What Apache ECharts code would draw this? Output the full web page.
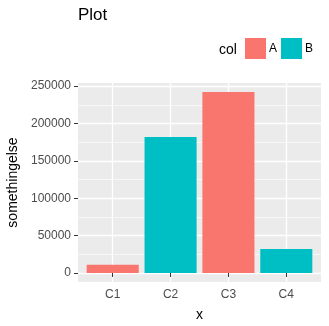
<!DOCTYPE html>
<html><head><meta charset="utf-8">
<script src="https://cdn.jsdelivr.net/npm/echarts@6/dist/echarts.min.js"></script>
<style>html,body{margin:0;padding:0;background:#fff}#c{width:329px;height:326px}</style>
</head><body><div id="c"></div>
<script>
const categories = ['C1', 'C2', 'C3', 'C4'];
const groups = ['A', 'B'];
const groupOf = ['A', 'B', 'A', 'B'];
const values = [11000, 182000, 242000, 32000];
const yTicks = [0, 50000, 100000, 150000, 200000, 250000];
const colors = {A: '#F8766D', B: '#00BFC4'};

const FONT = '"Liberation Sans", Arial, sans-serif';
const yMaxData = Math.max(...values);
const yMin = -0.05 * yMaxData, yMax = yMaxData * 1.05;
const xPos = categories.map((c, i) => i + 1);

const series = groups.map(g => ({
  name: g,
  type: 'bar',
  barWidth: '90%',
  barGap: '-100%',
  itemStyle: {color: colors[g]},
  data: categories.map((c, i) => groupOf[i] === g ? [xPos[i], values[i]] : null).filter(d => d)
}));

const chart = echarts.init(document.getElementById('c'), null, {renderer: 'canvas'});
chart.setOption({
  animation: false,
  textStyle: {fontFamily: FONT},
  title: [
    {text: 'Plot', left: 78, top: 7, padding: 0, textStyle: {fontFamily: FONT, fontSize: 17, fontWeight: 'normal', color: '#000'}},
    {text: 'col', left: 219, top: 43, padding: 0, textStyle: {fontFamily: FONT, fontSize: 14, fontWeight: 'normal', color: '#000'}}
  ],
  legend: {
    left: 245, top: 38, padding: 0,
    itemWidth: 21, itemHeight: 21, itemGap: 4,
    icon: 'rect',
    data: groups,
    textStyle: {fontFamily: FONT, fontSize: 12, color: '#000', padding: [0, 0, 0, -2]}
  },
  grid: {left: 78, right: 8, top: 83, bottom: 44, show: true, backgroundColor: '#EBEBEB', borderWidth: 0,
    outerBoundsMode: 'none', containLabel: false},
  xAxis: {
    type: 'value', min: 0.4, max: 4.6,
    name: 'x', nameLocation: 'middle', nameGap: 26,
    nameTextStyle: {fontFamily: FONT, fontSize: 14, color: '#000'},
    axisLine: {show: false},
    axisTick: {show: true, length: 4, customValues: xPos, lineStyle: {color: '#333', width: 1}},
    axisLabel: {customValues: xPos, margin: 7, fontSize: 12, color: '#4D4D4D', fontFamily: FONT,
      formatter: v => categories[Math.round(v) - 1] || ''},
    splitLine: {show: true, lineStyle: {color: '#fff', width: 1.3}}
  },
  yAxis: {
    type: 'value', min: yMin, max: yMax,
    name: 'somethingelse', nameLocation: 'middle', nameGap: 55, nameRotate: 90,
    nameTextStyle: {fontFamily: FONT, fontSize: 14, color: '#000'},
    axisLine: {show: false},
    axisTick: {show: true, length: 4, customValues: yTicks, lineStyle: {color: '#333', width: 1}},
    axisLabel: {customValues: yTicks, margin: 7, fontSize: 12, color: '#4D4D4D', fontFamily: FONT,
      formatter: v => String(v)},
    splitLine: {show: true, lineStyle: {color: '#fff', width: 1.3}},
    minorTick: {show: false, splitNumber: 2},
    minorSplitLine: {show: true, lineStyle: {color: '#fff', width: 0.6}}
  },
  series: series
});
</script></body></html>
